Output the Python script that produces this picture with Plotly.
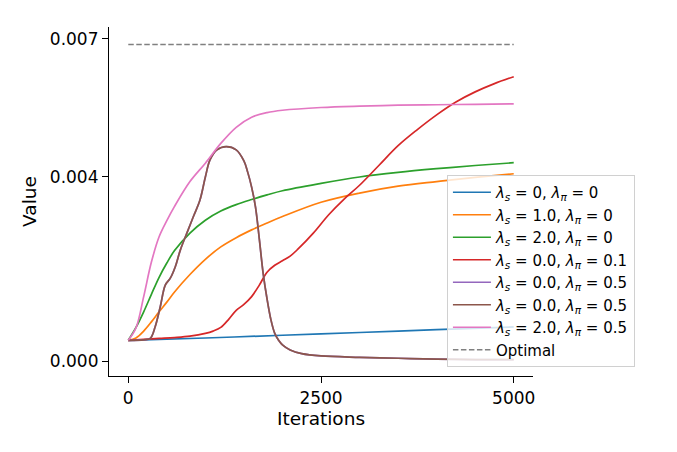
"""
Courbes de valeur selon lambda_s / lambda_pi, avec l'optimum en pointillés.
Écrit out.html.
"""
import plotly.graph_objects as go

# valeurs (itérations -> valeur)
it_blue = [0, 1000, 2000, 3000, 4000, 5000]
v_blue = [0.00045, 0.0005, 0.00056, 0.00062, 0.00068, 0.00074]

it_grid = [0, 100, 200, 300, 400, 500, 600, 800, 1000, 1200, 1400, 1600,
           1800, 2000, 2500, 3000, 3500, 4000, 4500, 5000]
v_orange = [0.00045, 0.0005, 0.00065, 0.00085, 0.00107, 0.00128, 0.0015,
            0.00188, 0.00221, 0.00248, 0.00268, 0.00285, 0.003, 0.00314,
            0.00345, 0.00365, 0.0038, 0.0039, 0.00399, 0.00407]
v_green = [0.00045, 0.00073, 0.00107, 0.00145, 0.00182, 0.00213, 0.0024,
           0.00278, 0.00306, 0.00326, 0.0034, 0.00351, 0.00361, 0.0037,
           0.00386, 0.004, 0.0041, 0.00418, 0.00425, 0.00431]
v_pink = [0.00045, 0.00072, 0.0014, 0.00215, 0.0027, 0.00305, 0.00336,
          0.0039, 0.0043, 0.00473, 0.00508, 0.0053, 0.0054, 0.00545,
          0.00551, 0.00554, 0.00556, 0.00557, 0.00558, 0.00559]

it_red = [0, 200, 400, 600, 800, 1000, 1100, 1200, 1300, 1400, 1500, 1600,
          1700, 1800, 1900, 2000, 2100, 2200, 2400, 2600, 2800, 3000, 3250,
          3500, 3750, 4000, 4250, 4500, 4750, 5000]
v_red = [0.00045, 0.00047, 0.00049, 0.00051, 0.00054, 0.0006, 0.00065,
         0.00073, 0.0009, 0.0011, 0.00123, 0.0014, 0.00165, 0.00193,
         0.00208, 0.00218, 0.00228, 0.00243, 0.00278, 0.00318, 0.00352,
         0.00382, 0.00425, 0.00468, 0.00503, 0.00535, 0.00563, 0.00585,
         0.00603, 0.00618]

it_brown = [0, 200, 285, 350, 415, 480, 545, 610, 675, 760, 845, 930, 1000,
            1060, 1150, 1270, 1400, 1500, 1550, 1600, 1650, 1700, 1750, 1800,
            1850, 1900, 1950, 2000, 2100, 2250, 2500, 3000, 3500, 4000, 4500,
            5000]
v_brown = [0.00045, 0.00046, 0.00049, 0.00075, 0.00118, 0.00165, 0.0018,
           0.00205, 0.00241, 0.00278, 0.00314, 0.0035, 0.004, 0.00437,
           0.00459, 0.00466, 0.00459, 0.00435, 0.0041, 0.00378, 0.00335,
           0.00265, 0.0019, 0.00135, 0.0009, 0.0006, 0.00045, 0.00035,
           0.00024, 0.00016, 0.00011, 0.00008, 0.00006, 0.00004, 0.00003,
           0.00003]

optimal = 0.00688
it_opt = [0, 5000]

labels = ["<i>λ<sub>s</sub></i> = 0, <i>λ<sub>π</sub></i> = 0",
          "<i>λ<sub>s</sub></i> = 1.0, <i>λ<sub>π</sub></i> = 0",
          "<i>λ<sub>s</sub></i> = 2.0, <i>λ<sub>π</sub></i> = 0",
          "<i>λ<sub>s</sub></i> = 0.0, <i>λ<sub>π</sub></i> = 0.1",
          "<i>λ<sub>s</sub></i> = 0.0, <i>λ<sub>π</sub></i> = 0.5",
          "<i>λ<sub>s</sub></i> = 0.0, <i>λ<sub>π</sub></i> = 0.5",
          "<i>λ<sub>s</sub></i> = 2.0, <i>λ<sub>π</sub></i> = 0.5"]
colors = ["#1f77b4", "#ff7f0e", "#2ca02c", "#d62728", "#9467bd", "#8c564b", "#e377c2"]
series = [(it_blue, v_blue), (it_grid, v_orange), (it_grid, v_green),
          (it_red, v_red), (it_brown, v_brown), (it_brown, v_brown),
          (it_grid, v_pink)]

fig = go.Figure()
for (xs, ys), name, c in zip(series, labels, colors):
    fig.add_trace(go.Scatter(x=xs, y=ys, mode="lines", name=name,
                             line=dict(color=c, width=1.7, shape="spline", smoothing=1.0)))
fig.add_trace(go.Scatter(x=it_opt, y=[optimal, optimal], mode="lines", name="Optimal",
                         line=dict(color="#808080", width=1.6, dash="5.5px,2.5px")))

# la page a une marge de 8 px autour du graphique : on décale d'autant
font = "DejaVu Sans, sans-serif"
fig.update_layout(
    width=677, height=452,
    margin=dict(l=101, r=152, t=19, b=84),
    paper_bgcolor="white", plot_bgcolor="white",
    font=dict(family=font, size=17, color="black"),
    legend=dict(x=0.797, y=0.576, xanchor="left", yanchor="top",
                bgcolor="rgba(255,255,255,0.8)", bordercolor="#d0d0d0", borderwidth=1,
                itemwidth=38, font=dict(size=15)),
)
fig.update_xaxes(range=[-250, 5250], tickvals=[0, 2500, 5000], ticktext=["0", "2500", "5000"],
                 showgrid=False, zeroline=False, showline=True, linecolor="black", linewidth=1.2,
                 ticks="outside", ticklen=6, tickwidth=1.2, tickcolor="black",
                 title=dict(text="Iterations", standoff=5, font=dict(size=18.5)))
fig.update_yaxes(range=[-0.000326, 0.00726], tickvals=[0, 0.004, 0.007],
                 ticktext=["0.000", "0.004", "0.007"],
                 showgrid=False, zeroline=False, showline=True, linecolor="black", linewidth=1.2,
                 ticks="outside", ticklen=6, tickwidth=1.2, tickcolor="black",
                 title=dict(text="Value", standoff=8, font=dict(size=18.5)))

fig.write_html("out.html")
